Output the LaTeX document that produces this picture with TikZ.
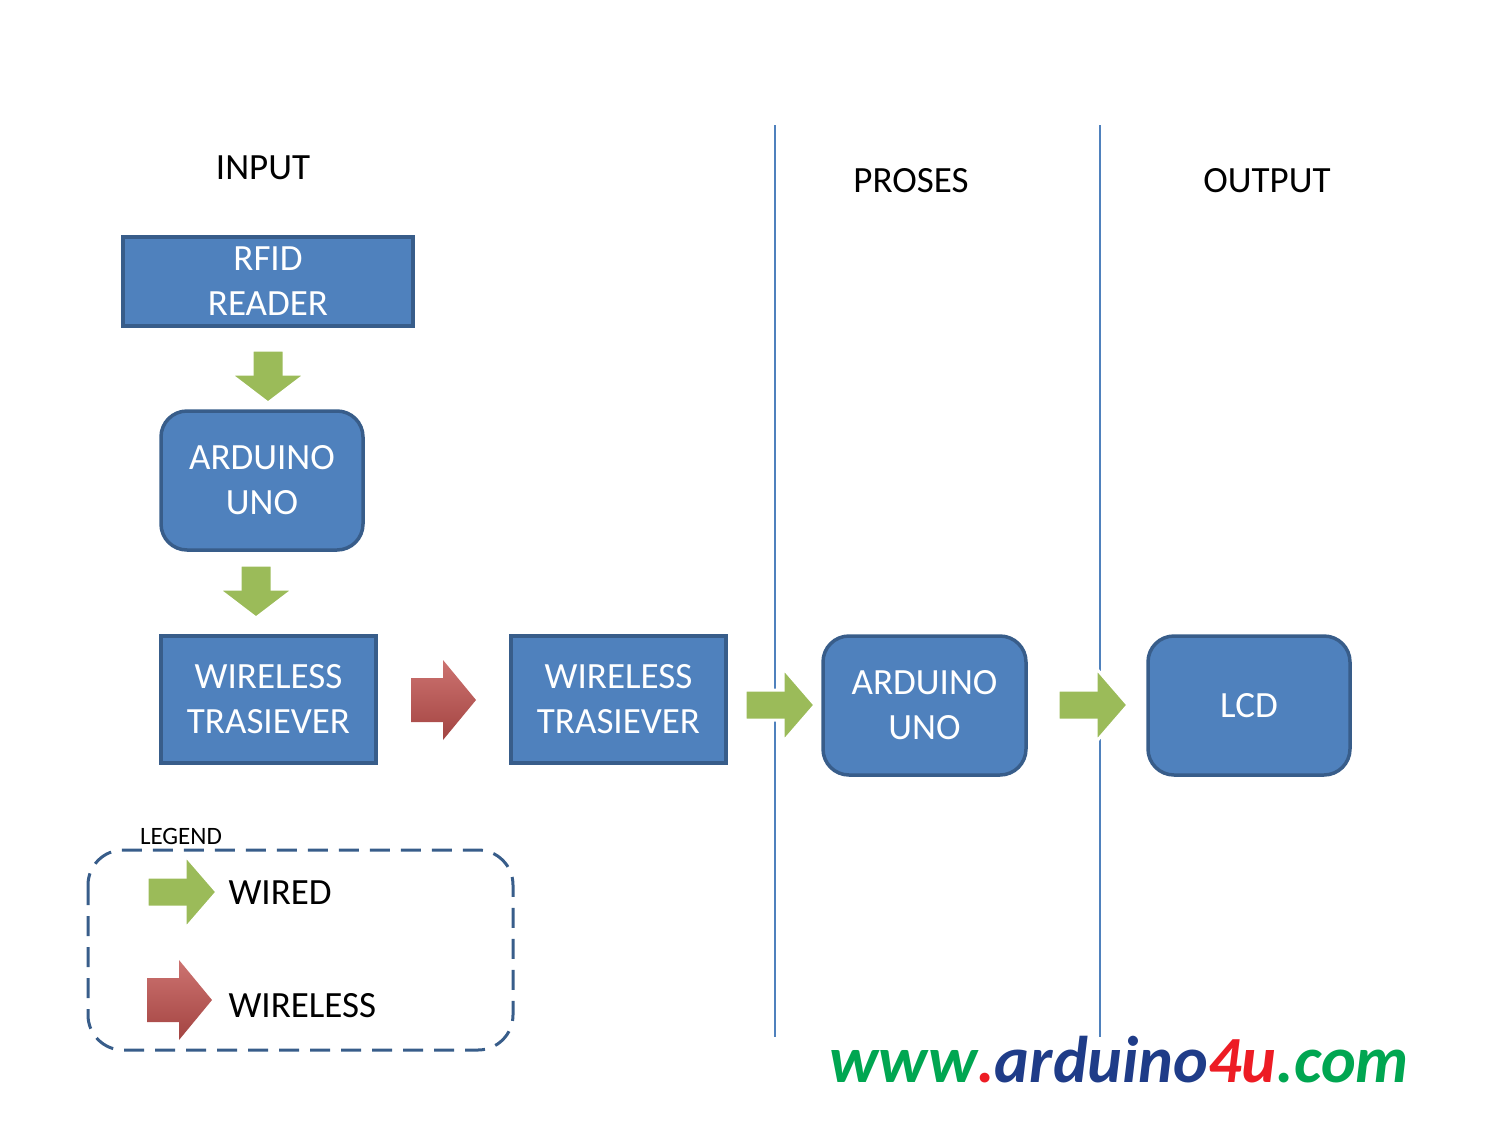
\documentclass[tikz,border=0pt]{standalone}
\usepackage{fontspec}
\setmainfont{Carlito}
\begin{document}
\begin{tikzpicture}[x=1pt,y=-1pt,
  boxs/.style={draw=bbord,fill=bfill,line width=3.5pt,text=white,align=center,font=\fontsize{37}{45}\selectfont,inner sep=0pt},
  rbox/.style={boxs,rounded corners=26pt},
  ttl/.style={font=\fontsize{37}{42}\selectfont},
  garrow/.style={fill=agreen,draw=white,line width=3pt},
  rarrow/.style={top color=ared!80!white,bottom color=ared!85!black,draw=none},
  arr/.pic={\path[pic actions] (0,-\sh)--(\hb,-\sh)--(\hb,-\hw)--(\len,0)--(\hb,\hw)--(\hb,\sh)--(0,\sh)--cycle;}
]
\definecolor{bfill}{HTML}{4F81BD}
\definecolor{bbord}{HTML}{385D8A}
\definecolor{agreen}{HTML}{9BBB59}
\definecolor{ared}{HTML}{C0504D}
\definecolor{wgreen}{HTML}{00A651}
\definecolor{wred}{HTML}{ED1C24}
\definecolor{wblue}{HTML}{1F3C88}
\useasboundingbox (0,0) rectangle (1500,1125);
\draw[bfill,line width=2.5pt] (775,125) -- (775,1037);
\draw[bfill,line width=2.5pt] (1100,125) -- (1100,1037);
\node[ttl] (tin) at (263,168) {INPUT};
\node[ttl] (tpr) at (911,181) {PROSES};
\node[ttl] (tout) at (1267,181) {OUTPUT};
\node[boxs,minimum width=290,minimum height=89] (rfid) at (268,281.5) {RFID\\READER};
\node[rbox,minimum width=202,minimum height=139] (ard1) at (262,480.5) {ARDUINO\\UNO};
\node[boxs,minimum width=215,minimum height=127] (wt1) at (268.5,699.5) {WIRELESS\\TRASIEVER};
\node[boxs,minimum width=215,minimum height=127] (wt2) at (618.5,699.5) {WIRELESS\\TRASIEVER};
\node[rbox,minimum width=203,minimum height=139] (ard2) at (924.5,705.5) {ARDUINO\\UNO};
\node[rbox,minimum width=202,minimum height=139] (lcd) at (1249,705.5) {LCD};
% wired arrows
\def\sh{16}\def\hw{38}\def\hb{24}\def\len{53}
\pic[garrow,rotate=-90] at (268,350) {arr};
\pic[garrow,rotate=-90] at (256,565) {arr};
\def\sh{15}\def\hw{37}\def\hb{38}\def\len{70}
\pic[garrow] at (745,705) {arr};
\pic[garrow] at (1058,705) {arr};
\pic[garrow] at (147,892) {arr};
\def\sh{22}\def\hw{40}\def\hb{32}\def\len{65}
\pic[rarrow] at (411,700) {arr};
\pic[rarrow] at (147,1000) {arr};
% legend
\draw[bbord,line width=3pt,dash pattern=on 20pt off 11pt,rounded corners=35pt] (88,850) rectangle (513,1050);
\node[font=\fontsize{25}{28}\selectfont] (leg) at (181,836) {LEGEND};
\node[ttl,anchor=west] (lw) at (225,893) {WIRED};
\node[ttl,anchor=west] (lwl) at (225,1006) {WIRELESS};
\node[font=\fontsize{66}{72}\selectfont\bfseries\itshape,anchor=base] (url) at (1119,1082) {\textcolor{wgreen}{www}\textcolor{wred}{.}\textcolor{wblue}{arduino}\textcolor{wred}{4u}\textcolor{wgreen}{.com}};
\end{tikzpicture}
\end{document}
